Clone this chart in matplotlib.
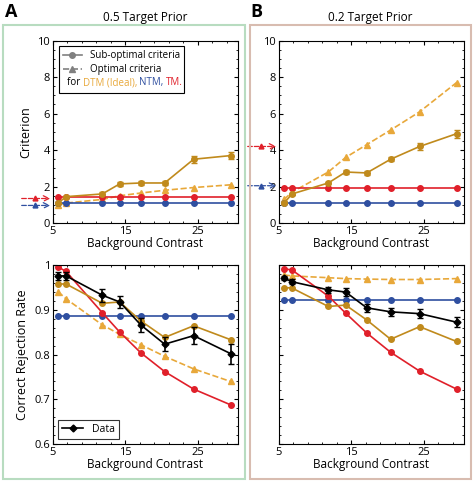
import matplotlib
matplotlib.use("Agg")
import matplotlib.pyplot as plt
from matplotlib.patches import Rectangle
from matplotlib.lines import Line2D

plt.rcParams['font.family'] = ['Open Sans', 'DejaVu Sans']

x = [5.7, 6.8, 11.8, 14.2, 17.1, 20.4, 24.4, 29.5]
ORANGE, LORANGE, BLUE, RED = '#c08a1c', '#e8a83a', '#2f4fa0', '#e0202a'

# Panel A (0.5 prior)
A_crit_red = [1.45]*8
A_crit_blue = [1.1]*8
A_crit_dtm = [1.1, 1.45, 1.6, 2.15, 2.2, 2.2, 3.5, 3.7]
A_crit_dtm_err = [0.05, 0.05, 0.08, 0.1, 0.12, 0.12, 0.18, 0.2]
A_crit_opt = [1.0, 1.1, 1.3, 1.5, 1.65, 1.8, 1.95, 2.1]
A_cr_red = [0.995, 0.985, 0.893, 0.85, 0.804, 0.762, 0.723, 0.688]
A_cr_blue = [0.886]*8
A_cr_dtm = [0.957, 0.957, 0.914, 0.917, 0.875, 0.838, 0.864, 0.833]
A_cr_opt = [0.94, 0.924, 0.866, 0.845, 0.822, 0.796, 0.768, 0.74]
A_data = [0.975, 0.975, 0.932, 0.917, 0.866, 0.823, 0.842, 0.802]
A_data_err = [0.008, 0.008, 0.014, 0.013, 0.015, 0.015, 0.019, 0.022]

# Panel B (0.2 prior)
B_crit_red = [1.95]*8
B_crit_blue = [1.1]*8
B_crit_dtm = [1.1, 1.6, 2.2, 2.8, 2.75, 3.5, 4.2, 4.9]
B_crit_dtm_err = [0.05, 0.05, 0.08, 0.1, 0.1, 0.12, 0.18, 0.22]
B_crit_opt = [1.3, 1.7, 2.8, 3.6, 4.3, 5.1, 6.1, 7.7]
B_cr_red = [0.991, 0.988, 0.93, 0.892, 0.848, 0.805, 0.763, 0.723]
B_cr_blue = [0.922]*8
B_cr_dtm = [0.949, 0.948, 0.907, 0.91, 0.877, 0.834, 0.862, 0.829]
B_cr_opt = [0.977, 0.975, 0.971, 0.969, 0.968, 0.967, 0.967, 0.969]
B_data = [0.97, 0.962, 0.944, 0.939, 0.904, 0.895, 0.891, 0.872]
B_data_err = [0.005, 0.006, 0.007, 0.008, 0.009, 0.009, 0.01, 0.011]

fig = plt.figure(figsize=(4.74, 4.83), dpi=100)
fig.patches.append(Rectangle((3/474, 1-479/483), 242/474, 454/483, transform=fig.transFigure,
                             fill=False, edgecolor='#b8dcc0', lw=1.5))
fig.patches.append(Rectangle((250/474, 1-479/483), 221/474, 454/483, transform=fig.transFigure,
                             fill=False, edgecolor='#d8bcb0', lw=1.5))
fig.text(5/474, 1-12/483, 'A', fontsize=13, fontweight='bold', va='center')
fig.text(250/474, 1-12/483, 'B', fontsize=13, fontweight='bold', va='center')
fig.text(145/474, 1-17/483, '0.5 Target Prior', fontsize=8.5, ha='center', va='center')
fig.text(370/474, 1-17/483, '0.2 Target Prior', fontsize=8.5, ha='center', va='center')

pos = {'A': 53/474, 'B': 279/474}
w = 0.39
axes = {}
for k in ['A', 'B']:
    axes[k+'top'] = fig.add_axes([pos[k], 0.538, w, 0.378])
    axes[k+'bot'] = fig.add_axes([pos[k], 0.08, w, 0.372])

ms = 4
def style(ax):
    ax.set_xlim(5, 30.5)
    ax.set_xticks([5, 15, 25])
    ax.minorticks_on()
    ax.tick_params(which='both', direction='in', top=True, right=True, labelsize=8, pad=2)
    ax.tick_params(which='major', length=3)
    ax.tick_params(which='minor', length=1.5)
    ax.set_xlabel('Background Contrast', fontsize=8.5, labelpad=0)

for k, cr, cb, cd, cde, co in [('A', A_crit_red, A_crit_blue, A_crit_dtm, A_crit_dtm_err, A_crit_opt),
                               ('B', B_crit_red, B_crit_blue, B_crit_dtm, B_crit_dtm_err, B_crit_opt)]:
    ax = axes[k+'top']
    ax.plot(x, co, '--^', color=LORANGE, ms=ms, lw=1.2)
    ax.plot(x, cb, '-o', color=BLUE, ms=ms, lw=1.2)
    ax.plot(x, cr, '-o', color=RED, ms=ms, lw=1.2)
    ax.errorbar(x, cd, yerr=cde, fmt='-o', color=ORANGE, ms=ms, lw=1.2, capsize=2)
    ax.set_ylim(0, 10)
    ax.set_yticks([0, 2, 4, 6, 8, 10])
    style(ax)

axes['Atop'].set_ylabel('Criterion', fontsize=9)

# arrows at the left margin
for k, yr, yb in [('A', 1.35, 0.97), ('B', 4.2, 2.05)]:
    ax = axes[k+'top']
    for yy, c in [(yr, RED), (yb, BLUE)]:
        ax.annotate('', xy=(5, yy), xytext=(0.3, yy), xycoords='data', annotation_clip=False,
                    arrowprops=dict(arrowstyle='->', color=c, ls='--', lw=0.9))
        ax.plot([2.5], [yy], '^', color=c, ms=3.5, clip_on=False)

for k, cr, cb, cd, co, d, de in [('A', A_cr_red, A_cr_blue, A_cr_dtm, A_cr_opt, A_data, A_data_err),
                                 ('B', B_cr_red, B_cr_blue, B_cr_dtm, B_cr_opt, B_data, B_data_err)]:
    ax = axes[k+'bot']
    ax.plot(x, co, '--^', color=LORANGE, ms=ms, lw=1.2)
    ax.plot(x, cb, '-o', color=BLUE, ms=ms, lw=1.2)
    ax.plot(x, cr, '-o', color=RED, ms=ms, lw=1.2)
    ax.plot(x, cd, '-o', color=ORANGE, ms=ms, lw=1.2)
    ax.errorbar(x, d, yerr=de, fmt='-D', color='black', ms=3.5, lw=1.2, capsize=2)
    ax.set_ylim(0.6, 1.0)
    ax.set_yticks([0.6, 0.7, 0.8, 0.9, 1.0])
    style(ax)

axes['Abot'].set_yticklabels(['0.6', '0.7', '0.8', '0.9', '1'])
axes['Abot'].set_ylabel('Correct Rejection Rate', fontsize=9)
axes['Bbot'].set_yticklabels([])

# legends
ax = axes['Atop']
h = [Line2D([], [], color='gray', marker='o', ms=ms, lw=1.2),
     Line2D([], [], color='gray', marker='^', ms=ms, lw=1.2, ls='--'),
     Line2D([], [], color='none')]
leg = ax.legend(h, ['Sub-optimal criteria', 'Optimal criteria', ' '], loc='upper left',
                fontsize=7, frameon=True, fancybox=False, edgecolor='black', framealpha=1,
                handlelength=2, borderaxespad=0.6, labelspacing=0.3)
leg.get_frame().set_linewidth(0.8)
leg.set_zorder(5)
parts = [('for ', 'black'), ('DTM (Ideal), ', LORANGE), ('NTM, ', BLUE), ('TM.', RED)]
fig.canvas.draw()
xx = 0.075
for t, c in parts:
    tx = ax.text(xx, 0.77, t, color=c, fontsize=7, transform=ax.transAxes, va='center', zorder=10)
    bb = tx.get_window_extent(fig.canvas.get_renderer())
    xx += bb.width / ax.get_window_extent().width

ax = axes['Abot']
l2 = ax.legend([Line2D([], [], color='black', marker='D', ms=3.5, lw=1.2)], ['Data'],
               loc='lower left', fontsize=7.5, fancybox=False, edgecolor='black', handlelength=2)
l2.get_frame().set_linewidth(0.8)

fig.savefig('out.png', dpi=100)
